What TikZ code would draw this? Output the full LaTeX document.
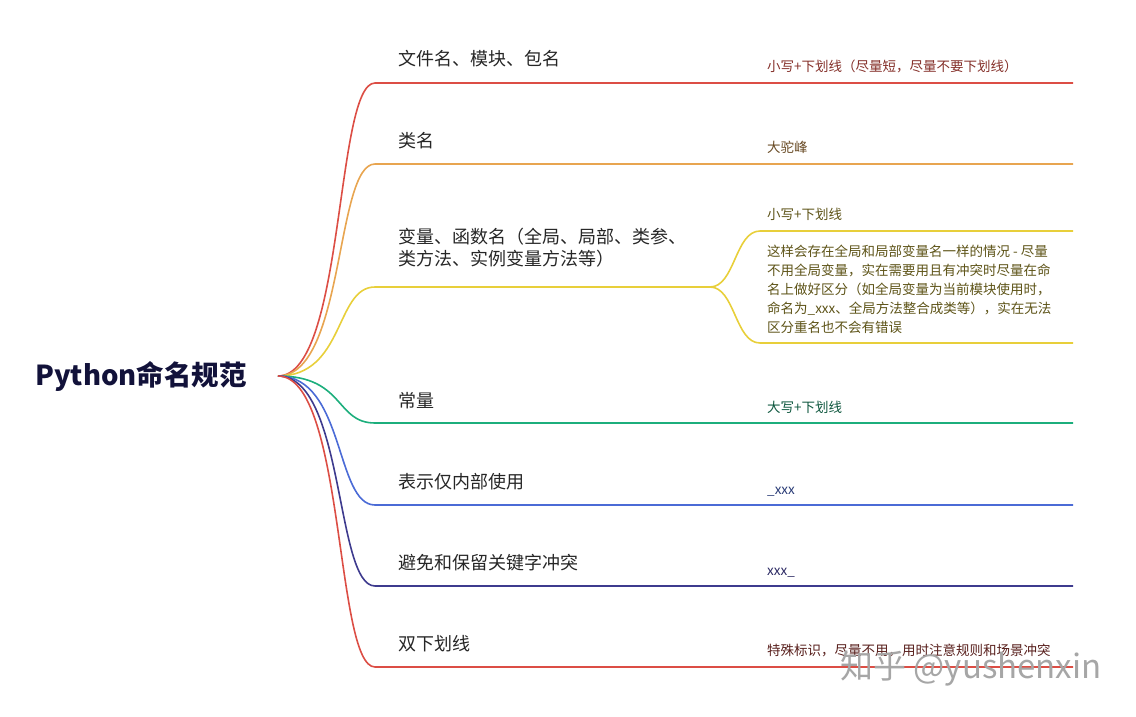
\documentclass[tikz,border=0pt]{standalone}
\usepackage{fontspec}
\setmainfont{Noto Sans CJK SC}
\usetikzlibrary{positioning}
\definecolor{cred}{HTML}{DC4E45}
\definecolor{corange}{HTML}{E8A550}
\definecolor{cyellow}{HTML}{E8CF3A}
\definecolor{cgreen}{HTML}{1CAE7C}
\definecolor{cblue}{HTML}{4B6BD6}
\definecolor{cnavy}{HTML}{3E3B8E}
\definecolor{ctitle}{HTML}{12123A}
\begin{document}
\begin{tikzpicture}[x=1pt,y=-1pt,
  branch/.style={line width=1.6pt},
  mainlabel/.style={anchor=base west, inner sep=0pt, font=\fontsize{18}{22}\selectfont, text=black!85},
  sublabel/.style={anchor=base west, inner sep=0pt, font=\fontsize{13.5}{19}\selectfont}]
\useasboundingbox (0,0) rectangle (1136,717);
\node[font=\fontsize{27.5}{32}\selectfont\bfseries, text=ctitle] (py) at (141,376) {Python命名规范};
\coordinate (o) at (278,376);
% branches
\coordinate (b1) at (375,83);  \coordinate (e1) at (1073,83);
\coordinate (b2) at (375,164); \coordinate (e2) at (1073,164);
\coordinate (b3) at (375,287); \coordinate (e3) at (710,287);
\coordinate (b4) at (375,423); \coordinate (e4) at (1073,423);
\coordinate (b5) at (375,505); \coordinate (e5) at (1073,505);
\coordinate (b6) at (375,586); \coordinate (e6) at (1073,586);
\coordinate (b7) at (375,667); \coordinate (e7) at (1073,667);
\draw[branch, cred] (o) .. controls (345,376) and (335,83) .. (b1) -- (e1);
\draw[branch, corange] (o) .. controls (345,376) and (335,164) .. (b2) -- (e2);
\draw[branch, cyellow] (o) .. controls (345,376) and (335,287) .. (b3) -- (e3);
\draw[branch, cgreen] (o) .. controls (345,376) and (335,423) .. (b4) -- (e4);
\draw[branch, cblue] (o) .. controls (345,376) and (335,505) .. (b5) -- (e5);
\draw[branch, cnavy] (o) .. controls (345,376) and (335,586) .. (b6) -- (e6);
\draw[branch, cred] (o) .. controls (345,376) and (335,667) .. (b7) -- (e7);
% yellow sub branches
\coordinate (s1) at (760,231); \coordinate (t1) at (1073,231);
\coordinate (s2) at (760,343); \coordinate (t2) at (1073,343);
\draw[branch, cyellow] (e3) .. controls (735,287) and (735,231) .. (s1) -- (t1);
\draw[branch, cyellow] (e3) .. controls (735,287) and (735,343) .. (s2) -- (t2);
% main labels
\node[mainlabel] (l1) at (398,66) {文件名、模块、包名};
\node[mainlabel] (l2) at (398,147) {类名};
\node[mainlabel, align=left, anchor=north west] (l3) at (398,228) {变量、函数名（全局、局部、类参、\\类方法、实例变量方法等）};
\node[mainlabel] (l4) at (398,407) {常量};
\node[mainlabel] (l5) at (398,488) {表示仅内部使用};
\node[mainlabel] (l6) at (398,569) {避免和保留关键字冲突};
\node[mainlabel] (l7) at (398,650) {双下划线};
% sub labels
\node[sublabel, text=cred!60!black] (n1) at (767,72) {小写+下划线（尽量短，尽量不要下划线）};
\node[sublabel, text=corange!45!black] (n2) at (767,152) {大驼峰};
\node[sublabel, text=cyellow!40!black] (n3) at (767,219) {小写+下划线};
\node[sublabel, text=cyellow!40!black, align=left, anchor=north west] (n3b) at (767,245)
  {这样会存在全局和局部变量名一样的情况 - 尽量\\不用全局变量，实在需要用且有冲突时尽量在命\\名上做好区分（如全局变量为当前模块使用时，\\命名为\_xxx、全局方法整合成类等），实在无法\\区分重名也不会有错误};
\node[sublabel, text=cgreen!50!black] (n4) at (767,412) {大写+下划线};
\node[sublabel, text=cblue!55!black] (n5) at (767,494) {\_xxx};
\node[sublabel, text=cnavy!70!black] (n6) at (767,575) {xxx\_};
\node[sublabel, text=cred!40!black] (n7) at (767,655) {特殊标识，尽量不用，用时注意规则和场景冲突};
% watermark
\node[anchor=base west, inner sep=0pt, font=\fontsize{33}{36}\selectfont, text=black!35] (wm) at (840,678) {知乎 @yushenxin};
\end{tikzpicture}
\end{document}
